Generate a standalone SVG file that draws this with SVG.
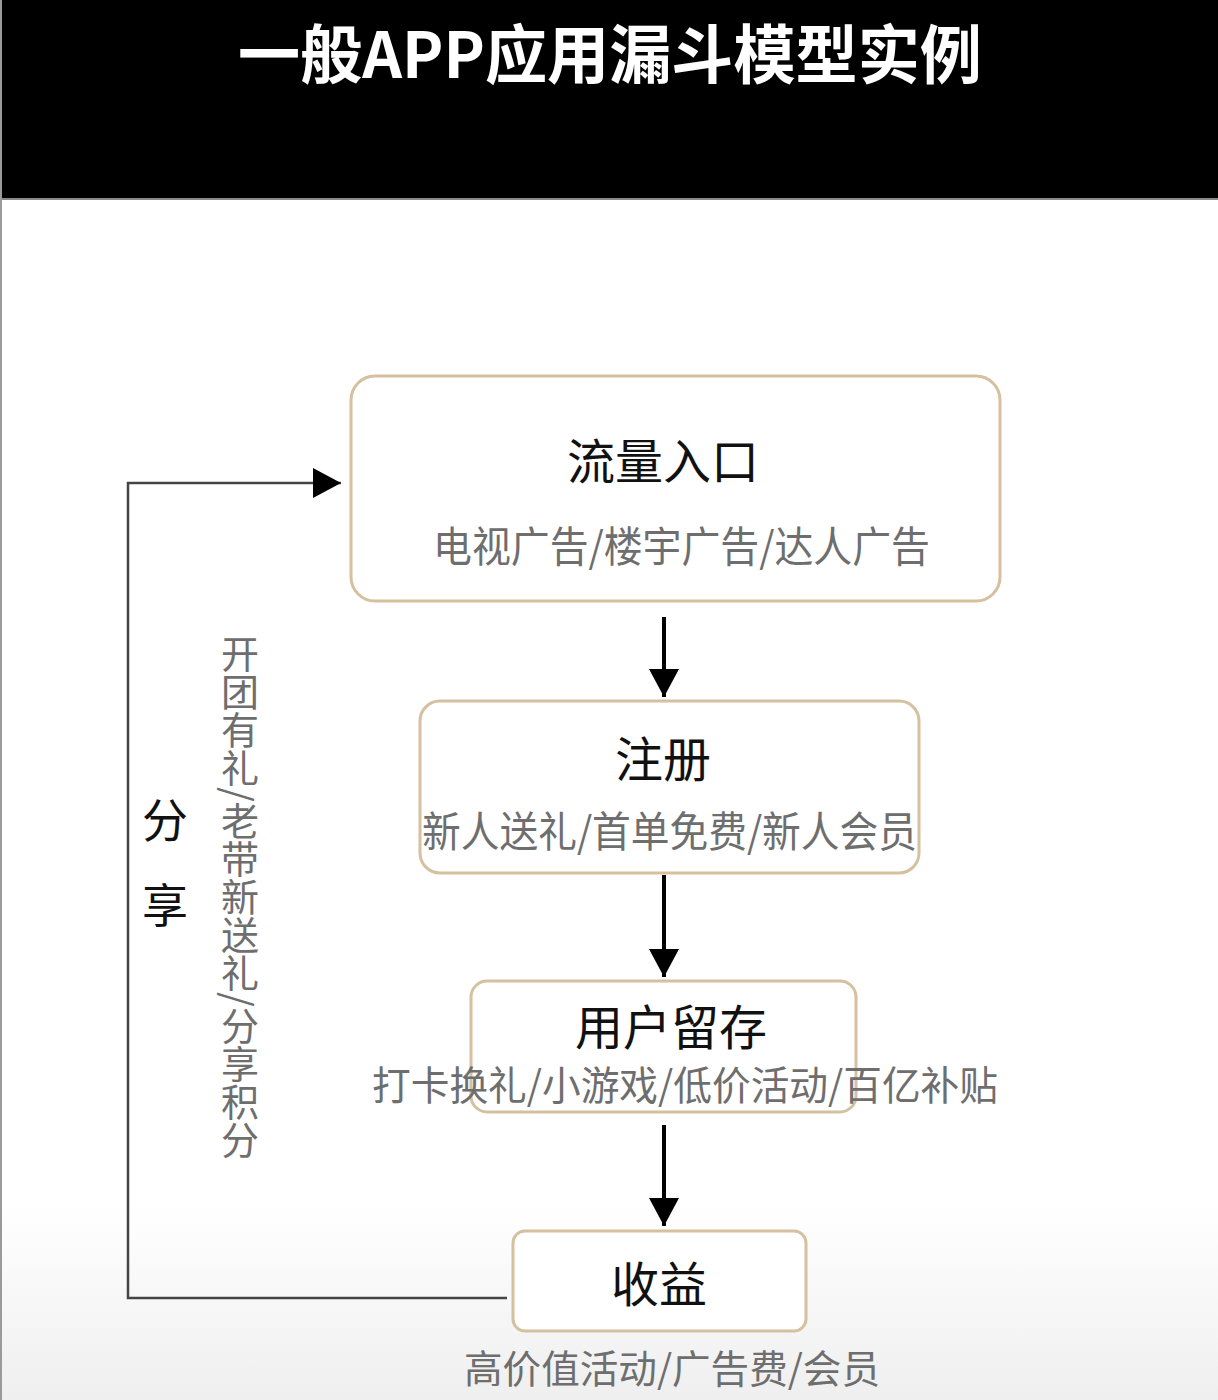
<svg xmlns="http://www.w3.org/2000/svg" width="1218" height="1400" viewBox="0 0 1218 1400">
  <defs>
    <linearGradient id="bg" x1="0" y1="0" x2="0" y2="1">
      <stop offset="0" stop-color="#ffffff"/>
      <stop offset="0.86" stop-color="#ffffff"/>
      <stop offset="1" stop-color="#efefef"/>
    </linearGradient>
    <marker id="ah" markerUnits="userSpaceOnUse" markerWidth="30" markerHeight="32" refX="28" refY="15" orient="auto">
      <path d="M0,0 L28,15 L0,30 Z" fill="#000"/>
    </marker>
    <marker id="ahs" markerUnits="userSpaceOnUse" markerWidth="32" markerHeight="32" refX="28" refY="15" orient="auto">
      <path d="M0,0 L28,15 L0,30 Z" fill="#000"/>
    </marker>
  </defs>
  <style>
    text { font-family: "Noto Sans CJK SC", "Noto Sans", sans-serif; }
    .box { fill: #ffffff; stroke: #d5c09f; stroke-width: 3; }
    .ttl { font-size: 48px; fill: #111; text-anchor: middle; }
    .sub { fill: #6e6e6e; }
    .flow { stroke: #000; stroke-width: 4; fill: none; }
    .loop { stroke: #444; stroke-width: 2.5; fill: none; }
  </style>

  <rect x="0" y="0" width="1218" height="1400" fill="url(#bg)"/>
  <line x1="1" y1="0" x2="1" y2="1400" stroke="#9a9a9a" stroke-width="2"/>

  <g id="header">
    <rect x="2" y="0" width="1216" height="198" fill="#000"/>
    <line x1="2" y1="199" x2="1218" y2="199" stroke="#8a8a8a" stroke-width="2"/>
    <text x="238" y="78" font-size="64" font-weight="bold" fill="#fff" textLength="744" lengthAdjust="spacingAndGlyphs">一般APP应用漏斗模型实例</text>
  </g>

  <g id="connectors">
    <line class="flow" x1="664" y1="617" x2="664" y2="697" marker-end="url(#ah)"/>
    <line class="flow" x1="664" y1="875" x2="664" y2="977" marker-end="url(#ah)"/>
    <line class="flow" x1="664" y1="1125" x2="664" y2="1226" marker-end="url(#ah)"/>
    <polyline class="loop" points="507,1298 128,1298 128,483 341,483" marker-end="url(#ahs)"/>
  </g>

  <g id="node-traffic">
    <rect class="box" x="351" y="376" width="649" height="225" rx="24"/>
    <text class="ttl" x="663" y="479">流量入口</text>
    <text class="sub" x="433" y="562" font-size="42" textLength="497" lengthAdjust="spacingAndGlyphs">电视广告/楼宇广告/达人广告</text>
  </g>

  <g id="node-register">
    <rect class="box" x="420" y="701" width="499" height="172" rx="20"/>
    <text class="ttl" x="663" y="777">注册</text>
    <text class="sub" x="422" y="847" font-size="42" textLength="495" lengthAdjust="spacingAndGlyphs">新人送礼/首单免费/新人会员</text>
  </g>

  <g id="node-retention">
    <rect class="box" x="471" y="981" width="385" height="131" rx="16"/>
    <text class="ttl" x="671" y="1045">用户留存</text>
    <text class="sub" x="372" y="1100" font-size="40" textLength="626" lengthAdjust="spacingAndGlyphs">打卡换礼/小游戏/低价活动/百亿补贴</text>
  </g>

  <g id="node-revenue">
    <rect class="box" x="513" y="1231" width="293" height="100" rx="12"/>
    <text class="ttl" x="659" y="1302">收益</text>
    <text class="sub" x="464" y="1383" font-size="39" textLength="416" lengthAdjust="spacingAndGlyphs">高价值活动/广告费/会员</text>
  </g>

  <g id="share-label">
    <text x="165" y="837" font-size="46" fill="#111" text-anchor="middle">分</text>
    <text x="165" y="922" font-size="46" fill="#111" text-anchor="middle">享</text>
    <text x="240" y="635" font-size="38" fill="#6e6e6e" style="writing-mode: vertical-rl;">开团有礼/老带新送礼/分享积分</text>
  </g>
</svg>
